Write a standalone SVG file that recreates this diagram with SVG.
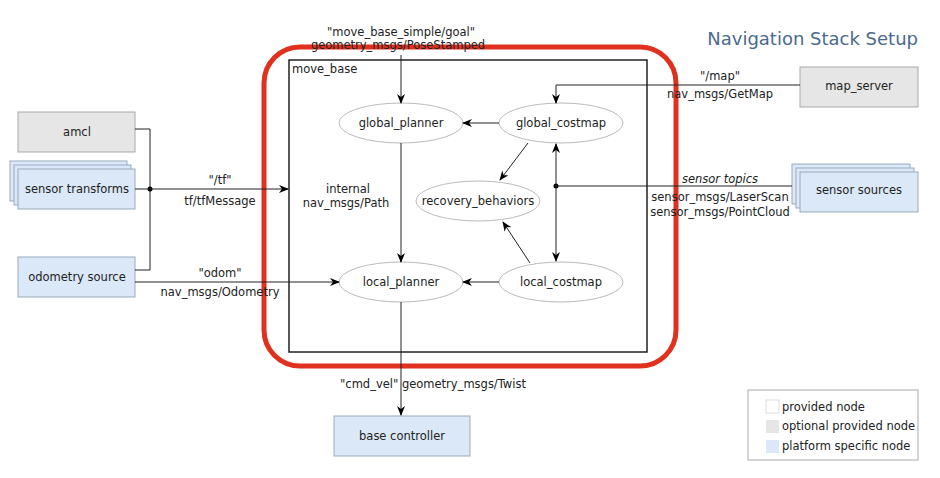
<svg xmlns="http://www.w3.org/2000/svg" width="940" height="478" viewBox="0 0 940 478">
<defs>
<marker id="ah" markerWidth="10" markerHeight="8" refX="9" refY="4" orient="auto" markerUnits="userSpaceOnUse"><path d="M0,0 L10,4 L0,8 L3,4 Z" fill="#000"/></marker>
<marker id="ahs" markerWidth="10" markerHeight="8" refX="1" refY="4" orient="auto" markerUnits="userSpaceOnUse"><path d="M10,0 L0,4 L10,8 L7,4 Z" fill="#000"/></marker>
<style>
text{font-family:"DejaVu Sans",sans-serif;font-size:11.5px;fill:#222}
.c{text-anchor:middle}
.gray{fill:#e6e6e6;stroke:#aaa}
.blue{fill:#dbe8f8;stroke:#9ab}
.ell{fill:#fff;stroke:#bbb}
.ln{stroke:#222;fill:none;stroke-width:1}
</style>
</defs>
<rect width="940" height="478" fill="#fff"/>
<text x="918" y="45" style="font-size:18px;fill:#4b6a8c;text-anchor:end">Navigation Stack Setup</text>
<g id="move_base"><rect x="289" y="60" width="358" height="292" fill="none" stroke="#222" stroke-width="1.5"/><text x="292" y="73">move_base</text></g>
<rect x="264" y="47" width="412" height="319" rx="36" fill="none" stroke="#e0301e" stroke-width="5"/>
<g id="amcl"><rect class="gray" x="18" y="112" width="117" height="40"/><text class="c" x="77" y="136">amcl</text></g>
<g id="sensor_transforms"><rect class="blue" x="10" y="161" width="117" height="40"/><rect class="blue" x="14" y="165" width="117" height="40"/><rect class="blue" x="18" y="169" width="117" height="40"/><text class="c" x="77" y="193">sensor transforms</text></g>
<g id="odometry_source"><rect class="blue" x="18" y="257" width="117" height="40"/><text class="c" x="77" y="281">odometry source</text></g>
<g id="map_server"><rect class="gray" x="800" y="67" width="118" height="40"/><text class="c" x="859" y="90">map_server</text></g>
<g id="sensor_sources"><rect class="blue" x="792" y="164" width="118" height="40"/><rect class="blue" x="796" y="168" width="118" height="40"/><rect class="blue" x="800" y="172" width="118" height="40"/><text class="c" x="859" y="194">sensor sources</text></g>
<g id="base_controller"><rect class="blue" x="334" y="416" width="136" height="40"/><text class="c" x="402" y="440">base controller</text></g>
<g id="global_planner"><ellipse class="ell" cx="401" cy="123" rx="62" ry="20"/><text class="c" x="401" y="127">global_planner</text></g>
<g id="global_costmap"><ellipse class="ell" cx="561" cy="123" rx="62" ry="20"/><text class="c" x="561" y="127">global_costmap</text></g>
<g id="recovery_behaviors"><ellipse class="ell" cx="478" cy="201" rx="62" ry="20"/><text class="c" x="478" y="205">recovery_behaviors</text></g>
<g id="local_planner"><ellipse class="ell" cx="401" cy="282" rx="62" ry="20"/><text class="c" x="401" y="286">local_planner</text></g>
<g id="local_costmap"><ellipse class="ell" cx="561" cy="282" rx="62" ry="20"/><text class="c" x="561" y="286">local_costmap</text></g>
<g id="connectors">
<path class="ln" d="M135,129 H150 V270 H135"/>
<circle cx="150" cy="189" r="2.5" fill="#000"/>
<path class="ln" d="M135,189 H288" marker-end="url(#ah)"/>
<text class="c" x="220" y="184">"/tf"</text><text class="c" x="220" y="205">tf/tfMessage</text>
<path class="ln" d="M135,282 H339" marker-end="url(#ah)"/>
<text class="c" x="220" y="277">"odom"</text><text class="c" x="220" y="296">nav_msgs/Odometry</text>
<path class="ln" d="M401,55 V103" marker-end="url(#ah)"/>
<text class="c" x="401" y="36">"move_base_simple/goal"</text><text class="c" x="398" y="49">geometry_msgs/PoseStamped</text>
<path class="ln" d="M499,123 H463" marker-end="url(#ah)"/>
<path class="ln" d="M528,143 L500,180" marker-end="url(#ah)"/>
<path class="ln" d="M530,263 L503,222" marker-end="url(#ah)"/>
<path class="ln" d="M499,282 H463" marker-end="url(#ah)"/>
<path class="ln" d="M401,143 V262" marker-end="url(#ah)"/>
<text class="c" x="348" y="193">internal</text><text class="c" x="346" y="207">nav_msgs/Path</text>
<path class="ln" d="M800,85 H556 V103" marker-end="url(#ah)"/>
<text class="c" x="720" y="80">"/map"</text><text class="c" x="720" y="98">nav_msgs/GetMap</text>
<path class="ln" d="M792,186 H556"/>
<circle cx="556" cy="186" r="2.5" fill="#000"/>
<path class="ln" d="M556,144 V261" marker-start="url(#ahs)" marker-end="url(#ah)"/>
<text class="c" x="720" y="183" style="font-style:italic">sensor topics</text>
<text class="c" x="720" y="201">sensor_msgs/LaserScan</text><text class="c" x="720" y="216">sensor_msgs/PointCloud</text>
<path class="ln" d="M401,302 V415" marker-end="url(#ah)"/>
<text class="c" x="433" y="388">"cmd_vel" geometry_msgs/Twist</text>
</g>
<g id="legend">
<rect x="748" y="390" width="170" height="70" fill="#fff" stroke="#aaa"/>
<rect x="766" y="400" width="13" height="13" fill="#fff" stroke="#ddd"/><text x="782" y="411">provided node</text>
<rect x="766" y="420" width="13" height="13" fill="#e6e6e6"/><text x="782" y="430">optional provided node</text>
<rect x="766" y="440" width="13" height="13" fill="#dbe8f8"/><text x="782" y="450">platform specific node</text>
</g>
</svg>
